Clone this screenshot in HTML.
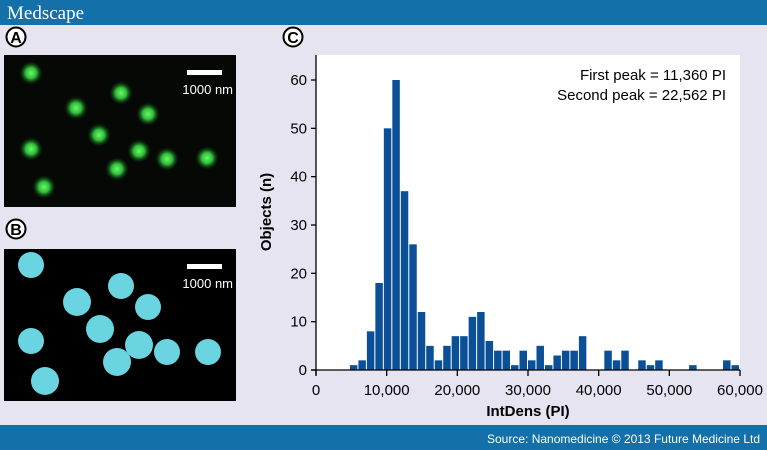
<!DOCTYPE html>
<html><head><meta charset="utf-8"><style>
body{margin:0;width:767px;height:450px;overflow:hidden;background:#e5e4f0;font-family:"Liberation Sans",sans-serif}
svg{display:block}
</style></head><body>
<svg width="767" height="450">
<rect x="0" y="0" width="767" height="450" fill="#e5e4f0"/>
<rect x="0" y="0" width="767" height="25" fill="#1470a8"/>
<text x="7" y="19" font-family="Liberation Serif,serif" font-size="19" fill="#fff">Medscape</text>
<rect x="0" y="425" width="767" height="25" fill="#1470a8"/>
<text x="760" y="443" text-anchor="end" font-size="12" fill="#fff">Source: Nanomedicine © 2013 Future Medicine Ltd</text>

<g><circle cx="16" cy="37" r="9.5" fill="#fff" stroke="#000" stroke-width="2"/><text x="16" y="43" text-anchor="middle" font-size="16" font-weight="bold">A</text></g>
<g><circle cx="16" cy="229" r="9.5" fill="#fff" stroke="#000" stroke-width="2"/><text x="16" y="235" text-anchor="middle" font-size="16" font-weight="bold">B</text></g>
<g><circle cx="293" cy="37" r="9.5" fill="#fff" stroke="#000" stroke-width="2"/><text x="293" y="43" text-anchor="middle" font-size="16" font-weight="bold">C</text></g>

<defs><radialGradient id="g"><stop offset="0" stop-color="#6cf56c"/><stop offset="0.45" stop-color="#2fbf3a"/><stop offset="1" stop-color="#0a2a0a" stop-opacity="0"/></radialGradient></defs>
<g>
<rect x="4" y="55" width="232" height="152" fill="#050805"/>
<g id="dotsA">
<circle cx="31" cy="73" r="12" fill="url(#g)"/><circle cx="121" cy="93" r="12" fill="url(#g)"/>
<circle cx="76" cy="108" r="12" fill="url(#g)"/><circle cx="148" cy="114" r="12" fill="url(#g)"/>
<circle cx="99" cy="135" r="12" fill="url(#g)"/><circle cx="31" cy="149" r="12" fill="url(#g)"/>
<circle cx="139" cy="151" r="12" fill="url(#g)"/><circle cx="167" cy="159" r="12" fill="url(#g)"/>
<circle cx="207" cy="158" r="12" fill="url(#g)"/><circle cx="117" cy="169" r="12" fill="url(#g)"/>
<circle cx="44" cy="187" r="12" fill="url(#g)"/>
</g>
<rect x="187" y="70" width="35" height="5" fill="#fff"/>
<text x="233" y="94" text-anchor="end" font-size="13" fill="#fff">1000 nm</text>
</g>
<g>
<rect x="4" y="249" width="232" height="152" fill="#000"/>
<g fill="#6ad4e0">
<circle cx="31" cy="265" r="13"/><circle cx="121" cy="286" r="13"/>
<circle cx="77" cy="302" r="14"/><circle cx="148" cy="307" r="13"/>
<circle cx="100" cy="329" r="14"/><circle cx="31" cy="341" r="13"/>
<circle cx="139" cy="345" r="14"/><circle cx="167" cy="352" r="13"/>
<circle cx="208" cy="352" r="13"/><circle cx="117" cy="362" r="14"/>
<circle cx="45" cy="381" r="14"/>
</g>
<rect x="187" y="264" width="35" height="5" fill="#fff"/>
<text x="233" y="288" text-anchor="end" font-size="13" fill="#fff">1000 nm</text>
</g>

<rect x="316" y="55" width="424" height="315" fill="#fff"/>
<g id="bars"></g>
<g id="axes"></g>
<text x="726" y="80" text-anchor="end" font-size="15">First peak = 11,360 PI</text>
<text x="726" y="100" text-anchor="end" font-size="15">Second peak = 22,562 PI</text>
<text x="528" y="416" text-anchor="middle" font-size="15" font-weight="bold">IntDens (PI)</text>
<text transform="translate(271,212) rotate(-90)" text-anchor="middle" font-size="15" font-weight="bold">Objects (n)</text>
</svg>
<script>
const binStart = 4800;
const binWidth = 1200;
const counts = [1,2,8,18,50,60,37,26,12,5,2,5,7,7,11,12,6,4,4,1,4,2,5,1,3,4,4,7,0,0,4,2,4,0,2,1,2,0,0,0,1,0,0,0,2,1];
const xTicks = [0,10000,20000,30000,40000,50000,60000];
const xTickLabels = ["0","10,000","20,000","30,000","40,000","50,000","60,000"];
const yTicks = [0,10,20,30,40,50,60];

const NS = "http://www.w3.org/2000/svg";
const x = v => 316 + v * 424 / 60000;
const y = v => 370 - v * 290 / 60;
const bars = document.getElementById('bars');
counts.forEach((c, i) => {
  if (!c) return;
  const x0 = x(binStart + i * binWidth), x1 = x(binStart + (i + 1) * binWidth);
  const r = document.createElementNS(NS, 'rect');
  r.setAttribute('x', x0);
  r.setAttribute('y', y(c));
  r.setAttribute('width', x1 - x0 - 1);
  r.setAttribute('height', y(0) - y(c));
  r.setAttribute('fill', '#0b4f96');
  
  
  bars.appendChild(r);
});
const ax = document.getElementById('axes');
function line(x1, y1, x2, y2, name) {
  const l = document.createElementNS(NS, 'line');
  l.setAttribute('x1', x1); l.setAttribute('y1', y1); l.setAttribute('x2', x2); l.setAttribute('y2', y2);
  l.setAttribute('stroke', '#000'); l.setAttribute('stroke-width', '1.3');
  
  
  ax.appendChild(l);
}
function text(tx, ty, s, anchor, name) {
  const t = document.createElementNS(NS, 'text');
  t.setAttribute('x', tx); t.setAttribute('y', ty); t.setAttribute('text-anchor', anchor);
  t.setAttribute('font-size', '15'); t.textContent = s;
  
  
  ax.appendChild(t);
}
line(316, 55, 316, 375, 'y-axis-line');
line(311, 370, 740, 370, 'x-axis-line');
xTicks.forEach((v, i) => {
  line(x(v), 370, x(v), 376, 'x-tick');
  text(x(v), 395, xTickLabels[i], 'middle', 'x-tick-label');
});
yTicks.forEach(v => {
  line(311, y(v), 316, y(v), 'y-tick');
  text(307, y(v) + 5, String(v), 'end', 'y-tick-label');
});
</script>
</body></html>
